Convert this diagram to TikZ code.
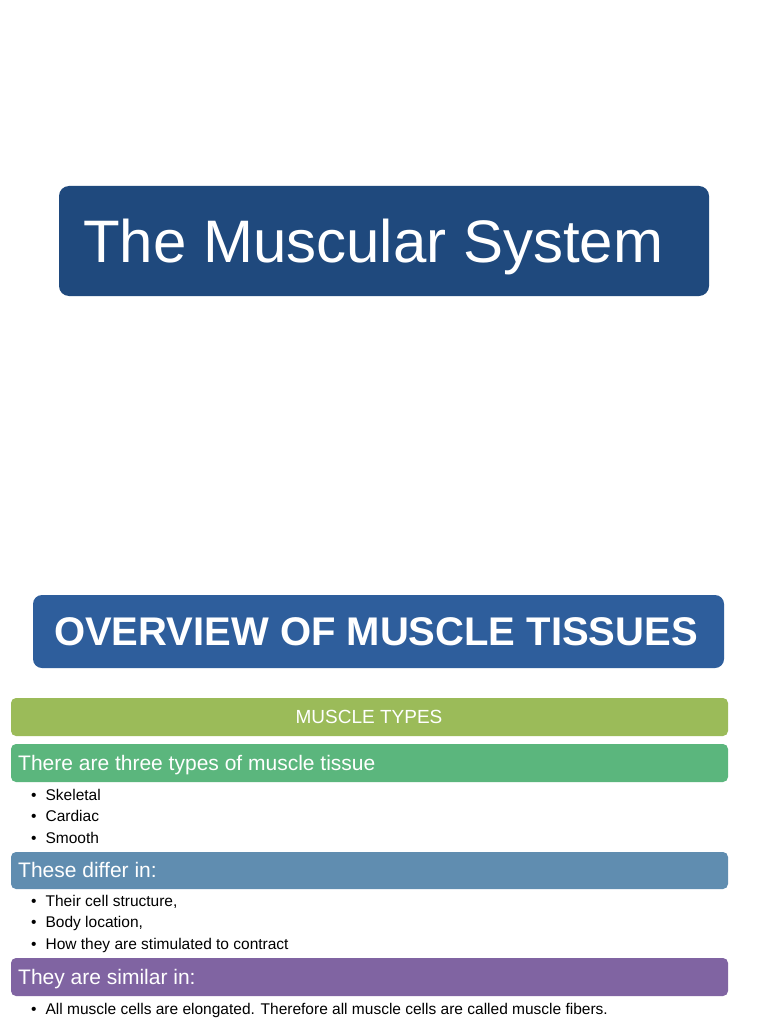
\documentclass[tikz,border=0pt]{standalone}
\usepackage{fontspec}
\setmainfont{Liberation Sans}
\begin{document}
\begin{tikzpicture}[x=1pt,y=-1pt,
  bar/.style={rounded corners=5pt,draw=none},
  bartext/.style={text=white,anchor=west,font=\fontsize{21}{21}\selectfont},
  bul/.style={anchor=west,font=\fontsize{15.5}{16}\selectfont,inner sep=0pt}]
\useasboundingbox (0,0) rectangle (768,1024);
\fill[white] (0,0) rectangle (768,1024);
\definecolor{tbl}{RGB}{31,73,125}
\definecolor{obl}{RGB}{46,94,156}
\definecolor{grn}{RGB}{155,187,89}
\definecolor{gr2}{RGB}{91,182,125}
\definecolor{blu}{RGB}{96,141,176}
\definecolor{pur}{RGB}{128,100,162}
\fill[tbl,rounded corners=10pt] (59,186) rectangle (709,296);
\node[text=white,anchor=base west,inner sep=0pt,font=\fontsize{60}{60}\selectfont] (title) at (83,262) {The Muscular System};
\fill[obl,rounded corners=9pt] (33,595) rectangle (724,668);
\node[text=white,anchor=base,inner sep=0pt,font=\fontsize{40}{40}\selectfont\bfseries] (ov) at (376,645) {OVERVIEW OF MUSCLE TISSUES};
\fill[grn,bar] (11,698) rectangle (728,736);
\node[text=white,anchor=base,inner sep=0pt,font=\fontsize{19}{19}\selectfont] (mt) at (369,723) {MUSCLE TYPES};
\fill[gr2,bar] (11,744) rectangle (728,782);
\node[bartext,anchor=base west,inner sep=0pt] (t1) at (18,770) {There are three types of muscle tissue};
\node[bul] (b1) at (31,795) {•\hspace{9pt}Skeletal};
\node[bul] (b2) at (31,816) {•\hspace{9pt}Cardiac};
\node[bul] (b3) at (31,838) {•\hspace{9pt}Smooth};
\fill[blu,bar] (11,852) rectangle (728,889);
\node[bartext,anchor=base west,inner sep=0pt] (t2) at (18,877) {These differ in:};
\node[bul] (c1) at (31,902) {•\hspace{9pt}Their cell structure,};
\node[bul] (c2) at (31,923) {•\hspace{9pt}Body location,};
\node[bul] (c3) at (31,945) {•\hspace{9pt}How they are stimulated to contract};
\fill[pur,bar] (11,958) rectangle (728,996);
\node[bartext,anchor=base west,inner sep=0pt] (t3) at (18,984) {They are similar in:};
\node[bul] (d1) at (31,1010) {•\hspace{9pt}All muscle cells are elongated. Therefore all muscle cells are called muscle fibers.};
\end{tikzpicture}
\end{document}
